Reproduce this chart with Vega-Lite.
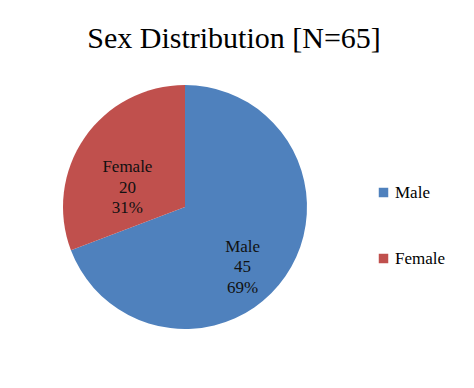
{
  "$schema": "https://vega.github.io/schema/vega-lite/v6.json",
  "width": 364,
  "height": 250,
  "autosize": "none",
  "padding": {"left": 3, "top": 82, "right": 107, "bottom": 56},
  "background": "white",
  "title": {
    "text": "Sex Distribution [N=65]",
    "font": "Liberation Serif",
    "fontSize": 30,
    "fontWeight": "normal",
    "color": "#000000",
    "anchor": "middle",
    "dx": 49,
    "offset": 4,
    "baseline": "alphabetic"
  },
  "data": {
    "values": [
      {"sex": "Male", "count": 45, "pct": "69%"},
      {"sex": "Female", "count": 20, "pct": "31%"}
    ]
  },
  "transform": [
    {"calculate": "datum.sex + '\\n' + datum.count + '\\n' + datum.pct", "as": "label"}
  ],
  "encoding": {
    "theta": {"field": "count", "type": "quantitative", "stack": true},
    "order": {"field": "count", "sort": "descending"}
  },
  "layer": [
    {
      "mark": {"type": "arc", "outerRadius": 122},
      "encoding": {
        "color": {
          "field": "sex",
          "type": "nominal",
          "scale": {"domain": ["Male", "Female"], "range": ["#4F81BD", "#C0504D"]},
          "legend": {
            "title": null,
            "orient": "none",
            "legendX": 372,
            "legendY": 102,
            "symbolType": "square",
            "symbolSize": 90,
            "symbolStrokeWidth": 0,
            "labelFont": "Liberation Serif",
            "labelFontSize": 17,
            "labelColor": "#000000",
            "labelOffset": 3,
            "rowPadding": 48
          }
        }
      }
    },
    {
      "mark": {
        "type": "text",
        "radius": 70,
        "lineBreak": "\n",
        "font": "Liberation Serif",
        "fontSize": 17,
        "lineHeight": 20.5,
        "color": "#111111"
      },
      "encoding": {"text": {"field": "label", "type": "nominal"}}
    }
  ],
  "config": {"view": {"stroke": null}}
}
